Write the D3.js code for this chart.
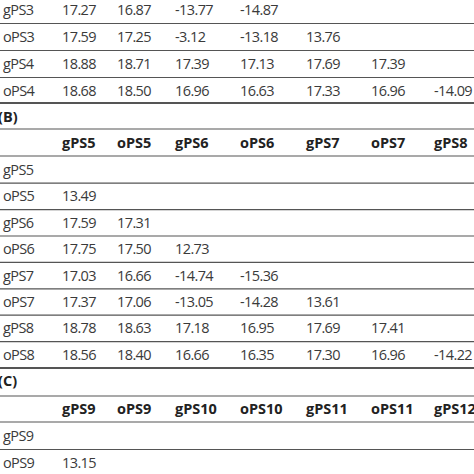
<!DOCTYPE html>
<html><head><meta charset="utf-8">
<script src="https://cdn.jsdelivr.net/npm/d3@7"></script>
<style>body{margin:0;background:#fff}</style>
</head><body>
<svg id="t" width="474" height="474"></svg>
<script>
// table values, row by row (blank cells omitted)
const rowsA = [
  ['gPS3', [17.27, 16.87, -13.77, -14.87]],
  ['oPS3', [17.59, 17.25, -3.12, -13.18, 13.76]],
  ['gPS4', [18.88, 18.71, 17.39, 17.13, 17.69, 17.39]],
  ['oPS4', [18.68, 18.50, 16.96, 16.63, 17.33, 16.96, -14.09]]
];
const headB = ['gPS5', 'oPS5', 'gPS6', 'oPS6', 'gPS7', 'oPS7', 'gPS8'];
const rowsB = [
  ['gPS5', []],
  ['oPS5', [13.49]],
  ['gPS6', [17.59, 17.31]],
  ['oPS6', [17.75, 17.50, 12.73]],
  ['gPS7', [17.03, 16.66, -14.74, -15.36]],
  ['oPS7', [17.37, 17.06, -13.05, -14.28, 13.61]],
  ['gPS8', [18.78, 18.63, 17.18, 16.95, 17.69, 17.41]],
  ['oPS8', [18.56, 18.40, 16.66, 16.35, 17.30, 16.96, -14.22]]
];
const headC = ['gPS9', 'oPS9', 'gPS10', 'oPS10', 'gPS11', 'oPS11', 'gPS12'];
const rowsC = [
  ['gPS9', []],
  ['oPS9', [13.15]]
];

const svg = d3.select('#t');
const font = '"Open Sans", "Noto Sans", sans-serif';
const col = d3.scaleOrdinal().domain(d3.range(8)).range([3, 62, 117, 175, 240, 306, 371, 434]);
const W = 474;

function hline(y, w) {
  svg.append('line').attr('x1', 0).attr('x2', W).attr('y1', y).attr('y2', y)
    .attr('stroke', '#555').attr('stroke-width', w || 1.2);
}
function txt(x, y, s, bold) {
  svg.append('text').attr('x', x).attr('y', y).attr('dy', '0.35em')
    .attr('font-family', font).attr('font-size', bold ? 14.5 : 14.5)
    .attr('font-weight', bold ? 'bold' : 'normal')
    .attr('letter-spacing', bold ? 0 : -0.6)
    .attr('fill', bold ? '#222' : '#3a3a3a').text(s);
}
function body(rows, y0, step) {
  rows.forEach((r, i) => {
    const y = y0 + i * step;
    txt(col(0), y, r[0]);
    r[1].forEach((v, j) => txt(col(j + 1), y, v.toFixed(2)));
    if (i < rows.length - 1) hline(y + step / 2);
  });
}

// (A) tail
body(rowsA, 10, 27);
hline(103, 2.2);
txt(-2, 117, '(B)', true);
hline(129);
headB.forEach((h, j) => txt(col(j + 1), 143, h, true));
hline(156);
body(rowsB, 170, 26.4);
hline(368, 2.2);
txt(-2, 381, '(C)', true);
hline(396);
headC.forEach((h, j) => txt(col(j + 1), 409, h, true));
hline(422);
body(rowsC, 436, 27);
</script>
</body></html>
